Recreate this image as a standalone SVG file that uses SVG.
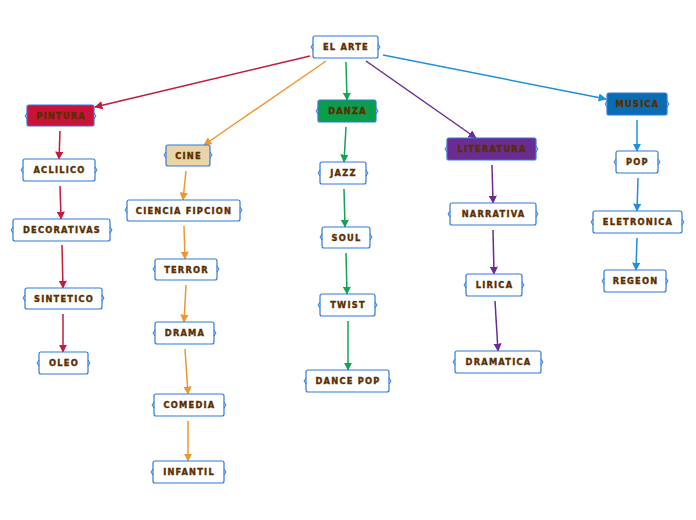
<svg xmlns="http://www.w3.org/2000/svg" width="696" height="520" viewBox="0 0 696 520">
<defs>
<style>
.n{fill:#fff;stroke:#2f7ad8;stroke-width:1.2}
.t{font-family:"DejaVu Sans",sans-serif;font-weight:bold;font-size:8.3px;letter-spacing:1.2px;fill:#5a2e00;stroke:#5a2e00;stroke-width:0.35;text-anchor:middle;dominant-baseline:central}
.b{fill:none;stroke:#2f7ad8;stroke-width:1}
.c{fill:none;stroke-width:1.5}
</style>
<marker id="ar" viewBox="0 0 10 10" refX="9" refY="5" markerWidth="5.5" markerHeight="5.5" orient="auto"><path d="M0,0L10,5L0,10z" fill="#c41a3c"/></marker>
<marker id="ao" viewBox="0 0 10 10" refX="9" refY="5" markerWidth="5.5" markerHeight="5.5" orient="auto"><path d="M0,0L10,5L0,10z" fill="#f0962e"/></marker>
<marker id="ag" viewBox="0 0 10 10" refX="9" refY="5" markerWidth="5.5" markerHeight="5.5" orient="auto"><path d="M0,0L10,5L0,10z" fill="#12a356"/></marker>
<marker id="ap" viewBox="0 0 10 10" refX="9" refY="5" markerWidth="5.5" markerHeight="5.5" orient="auto"><path d="M0,0L10,5L0,10z" fill="#6b2c91"/></marker>
<marker id="ab" viewBox="0 0 10 10" refX="9" refY="5" markerWidth="5.5" markerHeight="5.5" orient="auto"><path d="M0,0L10,5L0,10z" fill="#1e90dd"/></marker>
</defs>
<rect width="696" height="520" fill="#fff"/>
<g id="connectors">
<g stroke="#c41a3c" class="c" marker-end="url(#ar)">
<line x1="310" y1="56" x2="95" y2="107"/>
<line x1="60" y1="131" x2="59" y2="159"/>
<line x1="60" y1="186" x2="61" y2="219"/>
<line x1="62" y1="245" x2="63" y2="288"/>
<line x1="63" y1="314" x2="63" y2="352"/>
</g>
<g stroke="#f0962e" class="c" marker-end="url(#ao)">
<line x1="326" y1="61" x2="204" y2="145"/>
<line x1="186" y1="171" x2="183" y2="200"/>
<line x1="184" y1="226" x2="185" y2="259"/>
<line x1="186" y1="285" x2="184" y2="322"/>
<line x1="185" y1="349" x2="188" y2="394"/>
<line x1="188" y1="421" x2="188" y2="461"/>
</g>
<g stroke="#12a356" class="c" marker-end="url(#ag)">
<line x1="346" y1="62" x2="347" y2="100"/>
<line x1="346" y1="127" x2="344" y2="162"/>
<line x1="344" y1="189" x2="345" y2="227"/>
<line x1="346" y1="253" x2="347" y2="294"/>
<line x1="348" y1="321" x2="348" y2="370"/>
</g>
<g stroke="#6b2c91" class="c" marker-end="url(#ap)">
<line x1="366" y1="61" x2="476" y2="138"/>
<line x1="492" y1="165" x2="493" y2="203"/>
<line x1="493" y1="230" x2="494" y2="274"/>
<line x1="495" y1="301" x2="498" y2="351"/>
</g>
<g stroke="#1e90dd" class="c" marker-end="url(#ab)">
<line x1="383" y1="55" x2="606" y2="99"/>
<line x1="637" y1="120" x2="637" y2="151"/>
<line x1="638" y1="178" x2="637" y2="211"/>
<line x1="637" y1="238" x2="636" y2="270"/>
</g>
</g>
<g id="el-arte"><rect class="n" x="313" y="36" width="65" height="22" rx="2"/><path class="b" d="M313,44l-2,3l2,3M378,44l2,3l-2,3"/><text class="t" x="346" y="47">EL ARTE</text></g>
<g id="pintura"><rect class="n" x="27" y="105" width="67" height="21" rx="2" style="fill:#c8133a"/><path class="b" d="M27,113l-2,3l2,3M94,113l2,3l-2,3"/><text class="t" x="61" y="116">PINTURA</text></g>
<g id="aclilico"><rect class="n" x="23" y="159" width="72" height="22" rx="2"/><path class="b" d="M23,167l-2,3l2,3M95,167l2,3l-2,3"/><text class="t" x="59.5" y="170">ACLILICO</text></g>
<g id="decorativas"><rect class="n" x="13" y="219" width="97" height="22" rx="2"/><path class="b" d="M13,227l-2,3l2,3M110,227l2,3l-2,3"/><text class="t" x="62" y="230">DECORATIVAS</text></g>
<g id="sintetico"><rect class="n" x="25" y="288" width="77" height="21" rx="2"/><path class="b" d="M25,295l-2,3l2,3M102,295l2,3l-2,3"/><text class="t" x="64" y="298.5">SINTETICO</text></g>
<g id="oleo"><rect class="n" x="39" y="352" width="49" height="22" rx="2"/><path class="b" d="M39,360l-2,3l2,3M88,360l2,3l-2,3"/><text class="t" x="64" y="363">OLEO</text></g>
<g id="cine"><rect class="n" x="166" y="145" width="44" height="21" rx="2" style="fill:#ead5a8"/><path class="b" d="M166,152l-2,3l2,3M210,152l2,3l-2,3"/><text class="t" x="188.5" y="155.5">CINE</text></g>
<g id="ciencia-fipcion"><rect class="n" x="127" y="200" width="113" height="21" rx="2"/><path class="b" d="M127,207l-2,3l2,3M240,207l2,3l-2,3"/><text class="t" x="184" y="210.5">CIENCIA FIPCION</text></g>
<g id="terror"><rect class="n" x="155" y="259" width="62" height="21" rx="2"/><path class="b" d="M155,266l-2,3l2,3M217,266l2,3l-2,3"/><text class="t" x="186.5" y="269.5">TERROR</text></g>
<g id="drama"><rect class="n" x="155" y="322" width="59" height="22" rx="2"/><path class="b" d="M155,330l-2,3l2,3M214,330l2,3l-2,3"/><text class="t" x="185" y="333">DRAMA</text></g>
<g id="comedia"><rect class="n" x="154" y="394" width="70" height="22" rx="2"/><path class="b" d="M154,402l-2,3l2,3M224,402l2,3l-2,3"/><text class="t" x="189.5" y="405">COMEDIA</text></g>
<g id="infantil"><rect class="n" x="153" y="461" width="71" height="22" rx="2"/><path class="b" d="M153,469l-2,3l2,3M224,469l2,3l-2,3"/><text class="t" x="189" y="472">INFANTIL</text></g>
<g id="danza"><rect class="n" x="318" y="100" width="58" height="22" rx="2" style="fill:#0b9c4c"/><path class="b" d="M318,108l-2,3l2,3M376,108l2,3l-2,3"/><text class="t" x="347.5" y="111">DANZA</text></g>
<g id="jazz"><rect class="n" x="320" y="162" width="46" height="22" rx="2"/><path class="b" d="M320,170l-2,3l2,3M366,170l2,3l-2,3"/><text class="t" x="343.5" y="173">JAZZ</text></g>
<g id="soul"><rect class="n" x="322" y="227" width="48" height="21" rx="2"/><path class="b" d="M322,234l-2,3l2,3M370,234l2,3l-2,3"/><text class="t" x="346.5" y="237.5">SOUL</text></g>
<g id="twist"><rect class="n" x="320" y="294" width="55" height="22" rx="2"/><path class="b" d="M320,302l-2,3l2,3M375,302l2,3l-2,3"/><text class="t" x="348" y="305">TWIST</text></g>
<g id="dance-pop"><rect class="n" x="306" y="370" width="83" height="22" rx="2"/><path class="b" d="M306,378l-2,3l2,3M389,378l2,3l-2,3"/><text class="t" x="348" y="381">DANCE POP</text></g>
<g id="literatura"><rect class="n" x="447" y="138" width="89" height="22" rx="2" style="fill:#6b2c91"/><path class="b" d="M447,146l-2,3l2,3M536,146l2,3l-2,3"/><text class="t" x="492" y="149">LITERATURA</text></g>
<g id="narrativa"><rect class="n" x="450" y="203" width="86" height="22" rx="2"/><path class="b" d="M450,211l-2,3l2,3M536,211l2,3l-2,3"/><text class="t" x="493.5" y="214">NARRATIVA</text></g>
<g id="lirica"><rect class="n" x="466" y="274" width="56" height="22" rx="2"/><path class="b" d="M466,282l-2,3l2,3M522,282l2,3l-2,3"/><text class="t" x="494.5" y="285">LIRICA</text></g>
<g id="dramatica"><rect class="n" x="455" y="351" width="86" height="22" rx="2"/><path class="b" d="M455,359l-2,3l2,3M541,359l2,3l-2,3"/><text class="t" x="498.5" y="362">DRAMATICA</text></g>
<g id="musica"><rect class="n" x="607" y="93" width="60" height="22" rx="2" style="fill:#0b6db1"/><path class="b" d="M607,101l-2,3l2,3M667,101l2,3l-2,3"/><text class="t" x="637.5" y="104">MUSICA</text></g>
<g id="pop"><rect class="n" x="616" y="151" width="42" height="22" rx="2"/><path class="b" d="M616,159l-2,3l2,3M658,159l2,3l-2,3"/><text class="t" x="637.5" y="162">POP</text></g>
<g id="eletronica"><rect class="n" x="593" y="211" width="89" height="22" rx="2"/><path class="b" d="M593,219l-2,3l2,3M682,219l2,3l-2,3"/><text class="t" x="638" y="222">ELETRONICA</text></g>
<g id="regeon"><rect class="n" x="604" y="270" width="62" height="22" rx="2"/><path class="b" d="M604,278l-2,3l2,3M666,278l2,3l-2,3"/><text class="t" x="635.5" y="281">REGEON</text></g>
</svg>
